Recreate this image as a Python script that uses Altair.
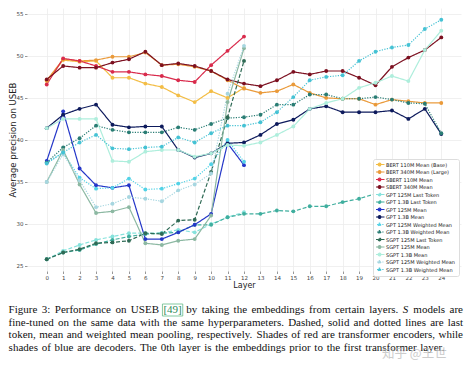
import altair as alt
import pandas as pd

# ---------------- data ----------------
layers = list(range(25))

series_names = [
    "BERT 110M Mean (Base)",
    "BERT 340M Mean (Large)",
    "SBERT 110M Mean",
    "SBERT 340M Mean",
    "GPT 125M Last Token",
    "GPT 1.3B Last Token",
    "GPT 125M Mean",
    "GPT 1.3B Mean",
    "GPT 125M Weighted Mean",
    "GPT 1.3B Weighted Mean",
    "SGPT 125M Last Token",
    "SGPT 125M Mean",
    "SGPT 1.3B Mean",
    "SGPT 125M Weighted Mean",
    "SGPT 1.3B Weighted Mean",
]

bert_base = [47.0, 49.5, 49.3, 49.4, 47.4, 47.4, 46.7, 46.3, 45.3, 44.5, 45.8, 45.0, 46.2]
bert_large = [47.1, 49.6, 49.4, 49.5, 49.9, 49.9, 50.4, 48.9, 49.0, 48.7, 48.2, 47.1, 46.1,
              45.6, 45.8, 46.6, 45.6, 45.0, 44.9, 44.9, 44.2, 44.8, 44.6, 44.4, 44.4]
sbert_base = [46.6, 49.7, 49.4, 48.8, 48.1, 48.1, 47.8, 47.6, 47.1, 46.9, 48.9, 50.6, 52.3]
sbert_large = [47.2, 48.8, 48.6, 48.6, 49.2, 49.6, 50.5, 48.9, 49.1, 48.8, 48.2, 47.2, 46.7,
               46.4, 47.1, 48.1, 47.8, 48.2, 48.2, 47.4, 46.5, 48.7, 49.8, 50.7, 52.2]
gpt_125m_last = [25.8, 26.8, 27.5, 28.1, 28.5, 28.9, 28.9, 28.9, 29.3, 29.0, 30.0, 30.8, 31.4]
gpt_13b_last = [25.8, 26.6, 26.9, 27.6, 28.1, 28.5, 28.8, 28.9, 29.0, 29.9, 29.9, 30.8, 31.2,
                31.2, 31.6, 31.5, 32.1, 32.1, 32.6, 33.0, 33.6, 33.9, 34.1, 34.3, 34.5]
gpt_125m_mean = [37.5, 43.4, 36.6, 34.6, 34.3, 34.6, 28.2, 28.2, 29.0, 29.9, 31.2, 39.6, 37.0]
gpt_13b_mean = [41.4, 43.0, 43.7, 44.2, 41.8, 41.5, 41.6, 41.6, 38.8, 37.9, 38.4, 39.6, 39.7,
                40.6, 41.9, 42.4, 43.7, 44.0, 43.3, 43.3, 43.3, 43.5, 42.5, 43.7, 40.7]
gpt_125m_wmean = [37.3, 38.5, 35.5, 34.2, 34.3, 35.4, 34.1, 34.2, 34.8, 35.4, 37.1, 40.0, 37.4]
gpt_13b_wmean = [37.3, 39.1, 40.2, 41.7, 41.2, 40.9, 40.9, 40.9, 41.5, 41.2, 41.9, 42.6, 42.7,
                 43.0, 44.2, 44.2, 45.4, 45.4, 44.9, 44.9, 45.1, 44.8, 44.4, 44.3, 40.8]
sgpt_125m_last = [25.8, 26.6, 27.0, 27.7, 27.8, 28.0, 28.9, 28.8, 30.4, 30.5, 36.2, 42.7, 49.4]
sgpt_125m_mean = [35.0, 38.8, 34.7, 31.3, 31.5, 32.0, 27.7, 27.5, 28.0, 28.2, 31.0, 44.5, 50.9]
sgpt_13b_mean = [41.4, 42.5, 42.5, 42.5, 37.5, 37.4, 38.6, 38.8, 38.8, 38.0, 38.4, 39.4, 39.3,
                 39.7, 40.6, 41.6, 43.7, 44.4, 44.9, 46.2, 46.8, 47.6, 47.0, 50.7, 53.0]
sgpt_125m_wmean = [35.0, 38.3, 35.2, 32.0, 32.4, 33.2, 33.0, 32.7, 34.0, 34.7, 36.0, 45.5, 51.2]
sgpt_13b_wmean = [37.2, 38.5, 39.7, 40.6, 39.0, 38.9, 39.1, 39.2, 40.3, 39.7, 40.8, 41.7, 41.7,
                  42.1, 43.3, 45.1, 47.1, 47.5, 47.7, 49.4, 50.5, 51.0, 51.3, 53.2, 54.3]

series_values = [bert_base, bert_large, sbert_base, sbert_large,
                 gpt_125m_last, gpt_13b_last, gpt_125m_mean, gpt_13b_mean,
                 gpt_125m_wmean, gpt_13b_wmean, sgpt_125m_last, sgpt_125m_mean,
                 sgpt_13b_mean, sgpt_125m_wmean, sgpt_13b_wmean]

series_colors = ["#f3bd45", "#ea9a3a", "#d92b4c", "#7c1020",
                 "#86e2dc", "#3fae9e", "#2436c8", "#0d1a5c",
                 "#52d2e6", "#2a7d74", "#2f6a55", "#8cb8a2",
                 "#aeeedc", "#a6d6e0", "#45c2d4"]

dash_last = [4, 2]
dash_mean = [1, 0]
dash_wmean = [1.2, 1.4]
series_dashes = [dash_mean, dash_mean, dash_mean, dash_mean,
                 dash_last, dash_last, dash_mean, dash_mean,
                 dash_wmean, dash_wmean, dash_last, dash_mean,
                 dash_mean, dash_wmean, dash_wmean]

y_ticks = [25, 30, 35, 40, 45, 50, 55]

caption_lines = [
    "Figure 3: Performance on USEB [49] by taking the embeddings from certain layers. S models are",
    "fine-tuned on the same data with the same hyperparameters. Dashed, solid and dotted lines are last",
    "token, mean and weighted mean pooling, respectively. Shades of red are transformer encoders, while",
    "shades of blue are decoders. The 0th layer is the embeddings prior to the first transformer layer.",
]
caption_right = [463, 463, 463, 445]   # right end of each caption line (page px)
watermark = "知乎 @王世"

# ---------------- build table ----------------
rows = []
for k, (name, vals) in enumerate(zip(series_names, series_values)):
    for i, v in enumerate(vals):
        rows.append({"series": name, "layer": layers[i], "value": v, "k": k})
df = pd.DataFrame(rows)

W, H = 434, 263
X0, Y0 = 27, 8           # page position of the plot area
XD = [-1.2, 25.2]
YD = [24.4, 55.7]


def px_to_x(px):
    return XD[0] + (px - X0) * (XD[1] - XD[0]) / W


def py_to_y(py):
    return YD[1] - (py - Y0) * (YD[1] - YD[0]) / H


# Times / Liberation Serif advance widths (1/1000 em)
TW = {" ": 250, ",": 250, ".": 250, ":": 278, "-": 333, "[": 333, "]": 333, "(": 333, ")": 333}
TW.update({d: 500 for d in "0123456789"})
TW.update(dict(zip("abcdefghijklmnopqrstuvwxyz",
                   [444, 500, 444, 500, 444, 333, 500, 500, 278, 278, 500, 278, 778, 500, 500,
                    500, 500, 333, 389, 278, 500, 500, 722, 500, 500, 444])))
TW.update(dict(zip("ABCDEFGHIJKLMNOPQRSTUVWXYZ",
                   [722, 667, 667, 722, 611, 556, 722, 722, 333, 389, 722, 611, 889, 722, 722,
                    556, 722, 667, 556, 611, 722, 722, 944, 722, 722, 611])))

FS = 11.0


def wwidth(w):
    return sum(TW.get(c, 500) for c in w) * FS / 1000.0


cap_y_px = [310, 322.6, 335, 347.6]
left_px = 8.6
normal_rows, green_rows, italic_rows = [], [], []
box = None
for line, ypx, rpx in zip(caption_lines, cap_y_px, caption_right):
    words = line.split(" ")
    widths = [wwidth(w) for w in words]
    gap = (rpx - left_px - sum(widths)) / (len(words) - 1)
    x = left_px
    for w, wd in zip(words, widths):
        row = {"layer": px_to_x(x), "value": py_to_y(ypx), "t": w}
        if w == "[49]":
            green_rows.append(row)
            box = (x - 1, x + wd + 1, ypx - 6, ypx + 6)
        elif w == "S":
            italic_rows.append(row)
        else:
            normal_rows.append(row)
        x += wd + gap

x_scale = alt.Scale(domain=XD, nice=False, zero=False)
y_scale = alt.Scale(domain=YD, nice=False, zero=False)
x_axis = alt.Axis(values=layers, title="Layer", format="d", orient="bottom")
y_axis = alt.Axis(values=y_ticks, title="Average precision on USEB", orient="left")
x_enc = alt.X("layer:Q", scale=x_scale, axis=x_axis)
y_enc = alt.Y("value:Q", scale=y_scale, axis=y_axis)
x2_enc = alt.X2("layer2:Q")
y2_enc = alt.Y2("value2:Q")

color_enc = alt.Color("series:N",
                      scale=alt.Scale(domain=series_names, range=series_colors),
                      sort=series_names,
                      legend=alt.Legend(title=None, orient="none", legendX=346, legendY=151))
dash_enc = alt.StrokeDash("series:N",
                          scale=alt.Scale(domain=series_names, range=series_dashes),
                          sort=series_names,
                          legend=alt.Legend(title=None, orient="none", legendX=346, legendY=151))

lines = alt.Chart(df).mark_line(strokeWidth=1.2).encode(
    x=x_enc, y=y_enc, color=color_enc, strokeDash=dash_enc, detail="series:N",
    order="layer:Q")
points = alt.Chart(df).mark_point(filled=True, size=15, opacity=1).encode(
    x=x_enc, y=y_enc, color=color_enc)


def words_layer(rows_, **kw):
    return alt.Chart(pd.DataFrame(rows_)).mark_text(
        align="left", baseline="middle", font="Liberation Serif", fontSize=FS, **kw
    ).encode(x=x_enc, y=y_enc, text="t:N")


cap_normal = words_layer(normal_rows, color="#111111")
cap_green = words_layer(green_rows, color="#2e8b57")
cap_italic = words_layer(italic_rows, color="#111111", fontStyle="italic")

box_df = pd.DataFrame([{"layer": px_to_x(box[0]), "layer2": px_to_x(box[1]),
                        "value": py_to_y(box[2]), "value2": py_to_y(box[3])}])
cap_box = alt.Chart(box_df).mark_rect(filled=False, stroke="#66bb88", strokeWidth=0.8).encode(
    x=x_enc, x2=x2_enc, y=y_enc, y2=y2_enc)

wm = alt.Chart(pd.DataFrame([{"layer": px_to_x(382), "value": py_to_y(354), "t": watermark}])).mark_text(
    align="left", baseline="middle", font="Noto Sans CJK SC", fontSize=12.5,
    color="#bbbbbb", opacity=0.75).encode(x=x_enc, y=y_enc, text="t:N")

chart = alt.layer(lines, points, cap_normal, cap_green, cap_italic, cap_box, wm).properties(
    width=W, height=H,
    autosize=alt.AutoSizeParams(type="none"),
    padding={"left": 19, "top": 0, "right": 5, "bottom": 93},
    background="white",
).configure_view(stroke=None).configure_axis(
    labelFont="DejaVu Sans", titleFont="DejaVu Sans",
    labelFontSize=5.5, labelColor="#444", titleFontSize=8, titleFontWeight="normal",
    titleColor="#222", tickColor="#999", tickSize=2.5, domain=False,
    gridColor="#ececec", gridWidth=0.8, labelPadding=1.5, titlePadding=2,
).configure_axisX(
    titleX=W / 2, titleY=14, titleBaseline="middle", titleAlign="center",
).configure_axisY(
    titleX=-15, titleY=H / 2, titleAngle=270, titleBaseline="middle", titleAlign="center",
    titleFontSize=8.5,
).configure_legend(
    labelFont="DejaVu Sans", labelFontSize=5, labelColor="#222",
    symbolType="M-2,0H2M0.55,0A0.55,0.55 0 1 1 -0.55,0A0.55,0.55 0 1 1 0.55,0",
    symbolSize=25, symbolStrokeWidth=1.1, rowPadding=1.5, labelOffset=3, clipHeight=5,
    padding=3, fillColor="white", strokeColor="#dddddd", cornerRadius=2,
    labelLimit=200,
)

chart.save("out.html", embed_options={"renderer": "svg", "actions": False})
